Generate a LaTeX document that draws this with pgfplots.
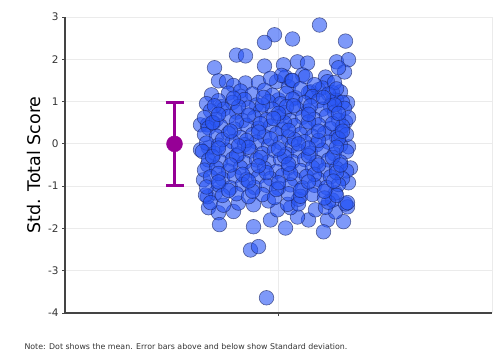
\documentclass[border=0pt]{standalone}
\usepackage{pgfplots}
\pgfplotsset{compat=1.18}
\usepackage{fontspec}
\setmainfont{DejaVu Sans}
\definecolor{ptblue}{RGB}{40,85,245}
\definecolor{ptedge}{RGB}{25,35,95}
\definecolor{meanpurple}{RGB}{150,0,150}
\definecolor{gridgray}{RGB}{235,235,235}
\definecolor{axgray}{RGB}{68,68,68}
\definecolor{txtgray}{RGB}{51,51,51}
\begin{document}
\begin{tikzpicture}
\path[use as bounding box] (0,0) rectangle (500bp,361bp);
\begin{axis}[
  at={(65bp,48bp)}, anchor=south west,
  width=427bp, height=296bp, scale only axis,
  xmin=-213.5, xmax=213.5, ymin=-4, ymax=3,
  axis x line*=bottom, axis y line*=left,
  axis line style={axgray, line width=1.2bp},
  xtick={0}, xticklabels={},
  ytick={-4,-3,-2,-1,0,1,2,3},
  xtick align=outside, ytick align=outside,
  major tick length=3bp,
  tick style={axgray, line width=0.8bp},
  xmajorgrids, ymajorgrids,
  grid style={gridgray, line width=0.8bp},
  extra x ticks={213.5}, extra x tick labels={},
  extra x tick style={grid=major, major tick length=0pt},
  /pgf/number format/assume math mode=true,
  yticklabel style={font=\fontsize{10.5}{12}\selectfont, text=txtgray},
  ylabel={Std. Total Score},
  ylabel style={font=\fontsize{17.5}{20}\selectfont, text=black},
  clip=false,
]
\addplot[only marks, mark=*, mark size=7.3bp,
  mark options={fill=ptblue, fill opacity=0.6, draw=ptedge, draw opacity=0.65, line width=0.6bp}]
  table[row sep=\\]{
x y\\
41 2.81\\ -4 2.58\\ -14 2.40\\ 14 2.48\\ 67 2.43\\
-42 2.10\\ -33 2.08\\ -64 1.80\\ -14 1.84\\ -60 1.49\\ -52 1.47\\ -33 1.44\\ -67 1.16\\ -2 1.47\\
58 1.94\\ 70 1.99\\ 66 1.70\\ 60 1.80\\ 19 1.94\\ 29 1.91\\ 5 1.87\\ 7 1.58\\ 10 1.35\\ 24 1.63\\
47 1.58\\ 49 1.47\\ 32 1.23\\ 40 1.28\\ 55 1.04\\ 62 1.23\\ 69 0.97\\ 17 1.09\\ 0 1.04\\
3 1.62\\ 13 1.50\\ 27 1.59\\ 30 1.21\\ 44 1.32\\ 54 1.21\\ 58 1.03\\ -57 0.88\\ -38 1.12\\
-70 -1.51\\ -71 -1.25\\ -63 -1.16\\ -60 -1.63\\ -59 -1.91\\ -45 -1.60\\ -25 -1.44\\ -25 -1.96\\ -8 -1.80\\
-28 -2.51\\ -20 -2.43\\ -12 -3.64\\ -1 -1.56\\ 7 -1.99\\ 30 -1.80\\ 49 -1.80\\ 45 -2.08\\ 65 -1.84\\ 57 -1.61\\
19 -1.73\\ 12 -1.51\\ 37 -1.56\\ 69 -1.49\\ 67 -1.42\\ 9 -1.43\\ 20 -1.31\\ 47 -1.50\\ 54 -1.33\\
-78 0.45\\ -71 0.45\\ -65 0.50\\ -70 -0.09\\ -78 -0.14\\ -71 -0.50\\ -73 -1.21\\ -68 -1.39\\ -75 -0.85\\
67 0.52\\ 70 -0.07\\ 72 -0.57\\ 70 -0.92\\ 69 -1.39\\ 62 0.26\\ 57 -1.16\\
-20 1.45\\ -8 1.55\\ 14 1.50\\ 36 1.40\\ 56 1.45\\ -45 1.38\\
-40 -1.40\\ -10 -1.35\\ 20 -1.42\\ 50 -1.38\\ -55 -1.45\\
-50 1.20\\ -38 1.25\\ -26 1.18\\ -14 1.27\\ -6 1.15\\ 8 1.20\\ 22 1.30\\ 34 1.12\\ 50 1.18\\ 58 1.30\\
-72 0.95\\ -60 1.02\\ -46 0.98\\ -34 1.05\\ -22 0.92\\ -10 1.00\\ 2 0.95\\ 14 1.06\\ 26 0.97\\ 40 1.02\\ 52 0.90\\ 64 0.98\\
-68 0.78\\ -55 0.82\\ -42 0.75\\ -30 0.85\\ -18 0.78\\ -6 0.82\\ 6 0.74\\ 18 0.84\\ 30 0.78\\ 44 0.82\\ 56 0.75\\ 66 0.84\\
-74 0.62\\ -62 0.58\\ -50 0.65\\ -36 0.55\\ -24 0.62\\ -12 0.57\\ 0 0.64\\ 12 0.55\\ 24 0.63\\ 36 0.58\\ 48 0.66\\ 60 0.56\\ 70 0.62\\
-70 0.38\\ -58 0.42\\ -44 0.35\\ -32 0.44\\ -20 0.37\\ -8 0.42\\ 4 0.35\\ 16 0.43\\ 28 0.38\\ 40 0.45\\ 52 0.36\\ 64 0.42\\
-74 0.22\\ -62 0.18\\ -50 0.25\\ -38 0.15\\ -26 0.22\\ -14 0.17\\ -2 0.24\\ 10 0.16\\ 22 0.23\\ 34 0.18\\ 46 0.25\\ 58 0.16\\ 68 0.22\\
-72 0.02\\ -60 -0.03\\ -46 0.05\\ -34 -0.02\\ -22 0.04\\ -10 -0.05\\ 2 0.03\\ 14 -0.04\\ 26 0.05\\ 38 -0.02\\ 50 0.04\\ 62 -0.03\\
-76 -0.18\\ -64 -0.22\\ -52 -0.15\\ -40 -0.24\\ -28 -0.17\\ -16 -0.23\\ -4 -0.16\\ 8 -0.24\\ 20 -0.17\\ 32 -0.22\\ 44 -0.15\\ 56 -0.24\\ 68 -0.18\\
-70 -0.38\\ -58 -0.42\\ -46 -0.36\\ -34 -0.44\\ -22 -0.38\\ -10 -0.43\\ 2 -0.36\\ 14 -0.42\\ 26 -0.37\\ 38 -0.44\\ 50 -0.38\\ 62 -0.43\\
-74 -0.62\\ -62 -0.57\\ -50 -0.64\\ -38 -0.56\\ -26 -0.63\\ -14 -0.58\\ -2 -0.65\\ 10 -0.57\\ 22 -0.63\\ 34 -0.56\\ 46 -0.62\\ 58 -0.58\\ 68 -0.64\\
-68 -0.78\\ -56 -0.83\\ -44 -0.76\\ -32 -0.84\\ -20 -0.78\\ -8 -0.82\\ 4 -0.75\\ 16 -0.83\\ 28 -0.77\\ 40 -0.84\\ 52 -0.78\\ 64 -0.82\\
-72 -1.02\\ -60 -0.97\\ -48 -1.04\\ -36 -0.96\\ -24 -1.03\\ -12 -0.98\\ 0 -1.05\\ 12 -0.97\\ 24 -1.04\\ 36 -0.98\\ 48 -1.03\\ 60 -0.96\\
-56 -1.22\\ -42 -1.18\\ -30 -1.25\\ -16 -1.20\\ -4 -1.27\\ 10 -1.18\\ 22 -1.24\\ 34 -1.20\\ 46 -1.28\\ 58 -1.22\\
-64 0.90\\ -40 0.88\\ -16 0.92\\ 8 0.88\\ 32 0.90\\ 56 0.92\\
-66 0.50\\ -42 0.52\\ -18 0.48\\ 6 0.50\\ 30 0.52\\ 54 0.48\\
-56 0.10\\ -32 0.08\\ -8 0.12\\ 16 0.10\\ 40 0.08\\ 60 0.12\\
-66 -0.30\\ -42 -0.28\\ -18 -0.32\\ 6 -0.30\\ 30 -0.28\\ 54 -0.32\\
-60 -0.70\\ -36 -0.72\\ -12 -0.68\\ 12 -0.70\\ 36 -0.72\\ 58 -0.68\\
-50 -1.10\\ -26 -1.12\\ -2 -1.08\\ 22 -1.10\\ 46 -1.12\\
-60 0.70\\ -30 0.68\\ 0 0.72\\ 30 0.70\\ 60 0.72\\
-48 0.30\\ -20 0.28\\ 10 0.32\\ 40 0.30\\ 64 0.30\\
-60 -0.10\\ -30 -0.08\\ 0 -0.12\\ 30 -0.10\\ 58 -0.08\\
-48 -0.50\\ -20 -0.52\\ 10 -0.48\\ 40 -0.50\\ 62 -0.50\\
-60 -0.90\\ -30 -0.88\\ 0 -0.92\\ 30 -0.90\\ 55 -0.88\\
-45 1.08\\ -15 1.10\\ 15 0.90\\ 45 1.10\\ -5 0.60\\ 20 0.00\\ -40 -0.05\\
};
\addplot[only marks, mark=*, mark size=8bp, color=meanpurple,
  error bars/.cd, y dir=both, y explicit,
  error bar style={line width=2.5bp, meanpurple},
  error mark options={rotate=90, mark size=9bp, line width=2.5bp, meanpurple}]
  coordinates {(-104,0) +- (0,0.98)};
\end{axis}
\node[anchor=west, font=\fontsize{7.9}{9}\selectfont, text=txtgray] at (21bp,14bp)
  {Note: Dot shows the mean. Error bars above and below show Standard deviation.};
\end{tikzpicture}
\end{document}
